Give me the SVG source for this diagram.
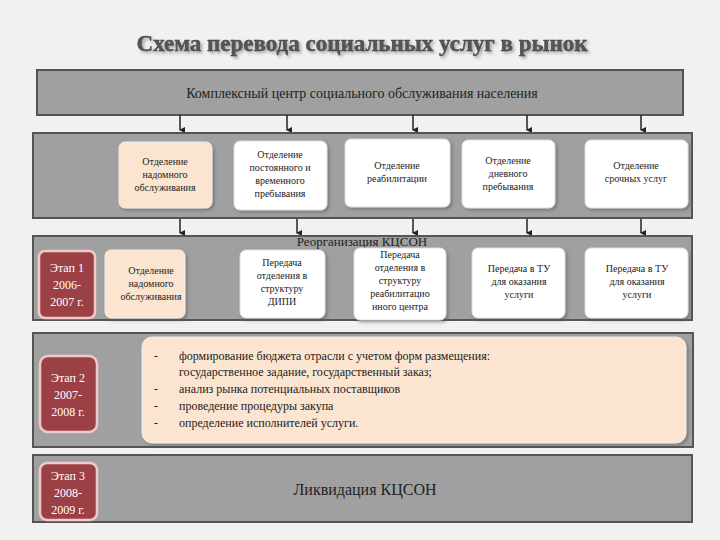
<svg xmlns="http://www.w3.org/2000/svg" width="720" height="540" viewBox="0 0 720 540">
<defs>
<marker id="ah" markerWidth="6" markerHeight="6" refX="3" refY="5" orient="auto" markerUnits="userSpaceOnUse"><path d="M0,0 L6,0 L3,6 Z" fill="#222"/></marker>
<filter id="sh" x="-10%" y="-10%" width="130%" height="130%"><feDropShadow dx="2" dy="2" stdDeviation="1.5" flood-color="#555" flood-opacity="0.5"/></filter>
</defs>
<style>
text{font-family:"Liberation Serif","DejaVu Serif",serif;fill:#222;text-anchor:middle}
.band{fill:#a0a0a0;stroke:#555;stroke-width:2}
.w{fill:#fff;stroke:#ddd;stroke-width:1;filter:url(#sh)}
.p{fill:#fbe5d0;stroke:#eee;stroke-width:1;filter:url(#sh)}
.st{fill:#9b4045;stroke:#f2c9c9;stroke-width:2.5}
.s{font-size:10px}
.m{font-size:11px}
.stt{font-size:12px;fill:#fff}
.c{stroke:#222;stroke-width:1.5;fill:none;marker-end:url(#ah)}
.l{font-size:12px;text-anchor:start}
</style>
<rect width="720" height="540" fill="#f1f1f1"/>
<text x="362" y="51" style="font-size:23px;font-weight:bold;fill:#555;stroke:#444;stroke-width:0.4" filter="url(#sh)">Схема перевода социальных услуг в рынок</text>
<g id="top"><rect class="band" x="37" y="70" width="646" height="45"/><text x="362" y="98" style="font-size:14px">Комплексный центр социального обслуживания населения</text></g>
<g id="connectors">
<path class="c" d="M180,115 V130"/><path class="c" d="M287,115 V130"/><path class="c" d="M413,115 V130"/><path class="c" d="M527,115 V130"/><path class="c" d="M641,115 V130"/>
<path class="c" d="M180,218 V233"/><path class="c" d="M297,218 V233"/><path class="c" d="M413,218 V233"/><path class="c" d="M527,218 V233"/><path class="c" d="M641,218 V233"/>
</g>
<g id="band2"><rect class="band" x="33" y="133" width="659" height="85"/></g>
<g id="d1"><rect class="p" x="119" y="142" width="93" height="66" rx="6"/><text class="s" x="165" y="165">Отделение</text><text class="s" x="165" y="178">надомного</text><text class="s" x="165" y="191">обслуживания</text></g>
<g id="d2"><rect class="w" x="234" y="141" width="93" height="69" rx="6"/><text class="s" x="280" y="158">Отделение</text><text class="s" x="280" y="171">постоянного и</text><text class="s" x="280" y="184">временного</text><text class="s" x="280" y="197">пребывания</text></g>
<g id="d3"><rect class="w" x="345" y="139" width="105" height="68" rx="6"/><text class="s" x="397" y="169">Отделение</text><text class="s" x="397" y="182">реабилитации</text></g>
<g id="d4"><rect class="w" x="462" y="140" width="93" height="68" rx="6"/><text class="s" x="508" y="164">Отделение</text><text class="s" x="508" y="177">дневного</text><text class="s" x="508" y="190">пребывания</text></g>
<g id="d5"><rect class="w" x="585" y="140" width="103" height="68" rx="6"/><text class="s" x="636" y="169">Отделение</text><text class="s" x="636" y="182">срочных услуг</text></g>
<g id="band3"><rect class="band" x="33" y="236" width="659" height="84"/><text x="362" y="246" style="font-size:13px">Реорганизация КЦСОН</text></g>
<g id="st1"><rect class="st" x="39" y="251" width="56" height="67" rx="6"/><text class="stt" x="67" y="272">Этап 1</text><text class="stt" x="67" y="289">2006-</text><text class="stt" x="67" y="306">2007 г.</text></g>
<g id="r1"><rect class="p" x="105" y="250" width="80" height="68" rx="6"/><text class="s" x="151" y="274">Отделение</text><text class="s" x="151" y="287">надомного</text><text class="s" x="151" y="300">обслуживания</text></g>
<g id="r2"><rect class="w" x="240" y="250" width="85" height="68" rx="6"/><text class="s" x="282" y="266">Передача</text><text class="s" x="282" y="279">отделения в</text><text class="s" x="282" y="292">структуру</text><text class="s" x="282" y="305">ДИПИ</text></g>
<g id="r3"><rect class="w" x="354" y="248" width="92" height="72" rx="6"/><text class="s" x="400" y="258">Передача</text><text class="s" x="400" y="271">отделения в</text><text class="s" x="400" y="284">структуру</text><text class="s" x="400" y="297">реабилитацио</text><text class="s" x="400" y="310">нного центра</text></g>
<g id="r4"><rect class="w" x="472" y="248" width="93" height="70" rx="6"/><text class="s" x="519" y="272">Передача в ТУ</text><text class="s" x="519" y="285">для оказания</text><text class="s" x="519" y="298">услуги</text></g>
<g id="r5"><rect class="w" x="585" y="248" width="103" height="70" rx="6"/><text class="s" x="637" y="272">Передача в ТУ</text><text class="s" x="637" y="285">для оказания</text><text class="s" x="637" y="298">услуги</text></g>
<g id="band4"><rect class="band" x="33" y="333" width="660" height="114"/></g>
<g id="st2"><rect class="st" x="40" y="356" width="57" height="76" rx="8"/><text class="stt" x="68" y="382">Этап 2</text><text class="stt" x="68" y="399">2007-</text><text class="stt" x="68" y="416">2008 г.</text></g>
<g id="s2"><rect class="p" x="142" y="337" width="544" height="106" rx="10"/>
<text class="l" x="154" y="360">-</text><text class="l" x="179" y="360">формирование бюджета отрасли с учетом форм размещения:</text>
<text class="l" x="179" y="376">государственное задание, государственный заказ;</text>
<text class="l" x="154" y="393">-</text><text class="l" x="179" y="393">анализ рынка потенциальных поставщиков</text>
<text class="l" x="154" y="410">-</text><text class="l" x="179" y="410">проведение процедуры закупа</text>
<text class="l" x="154" y="427">-</text><text class="l" x="179" y="427">определение исполнителей услуги.</text></g>
<g id="band5"><rect class="band" x="33" y="455" width="659" height="67"/><text x="365" y="495" style="font-size:16px">Ликвидация КЦСОН</text></g>
<g id="st3"><rect class="st" x="40" y="463" width="57" height="57" rx="7"/><text class="stt" x="68" y="480">Этап 3</text><text class="stt" x="68" y="497">2008-</text><text class="stt" x="68" y="514">2009 г.</text></g>
</svg>
